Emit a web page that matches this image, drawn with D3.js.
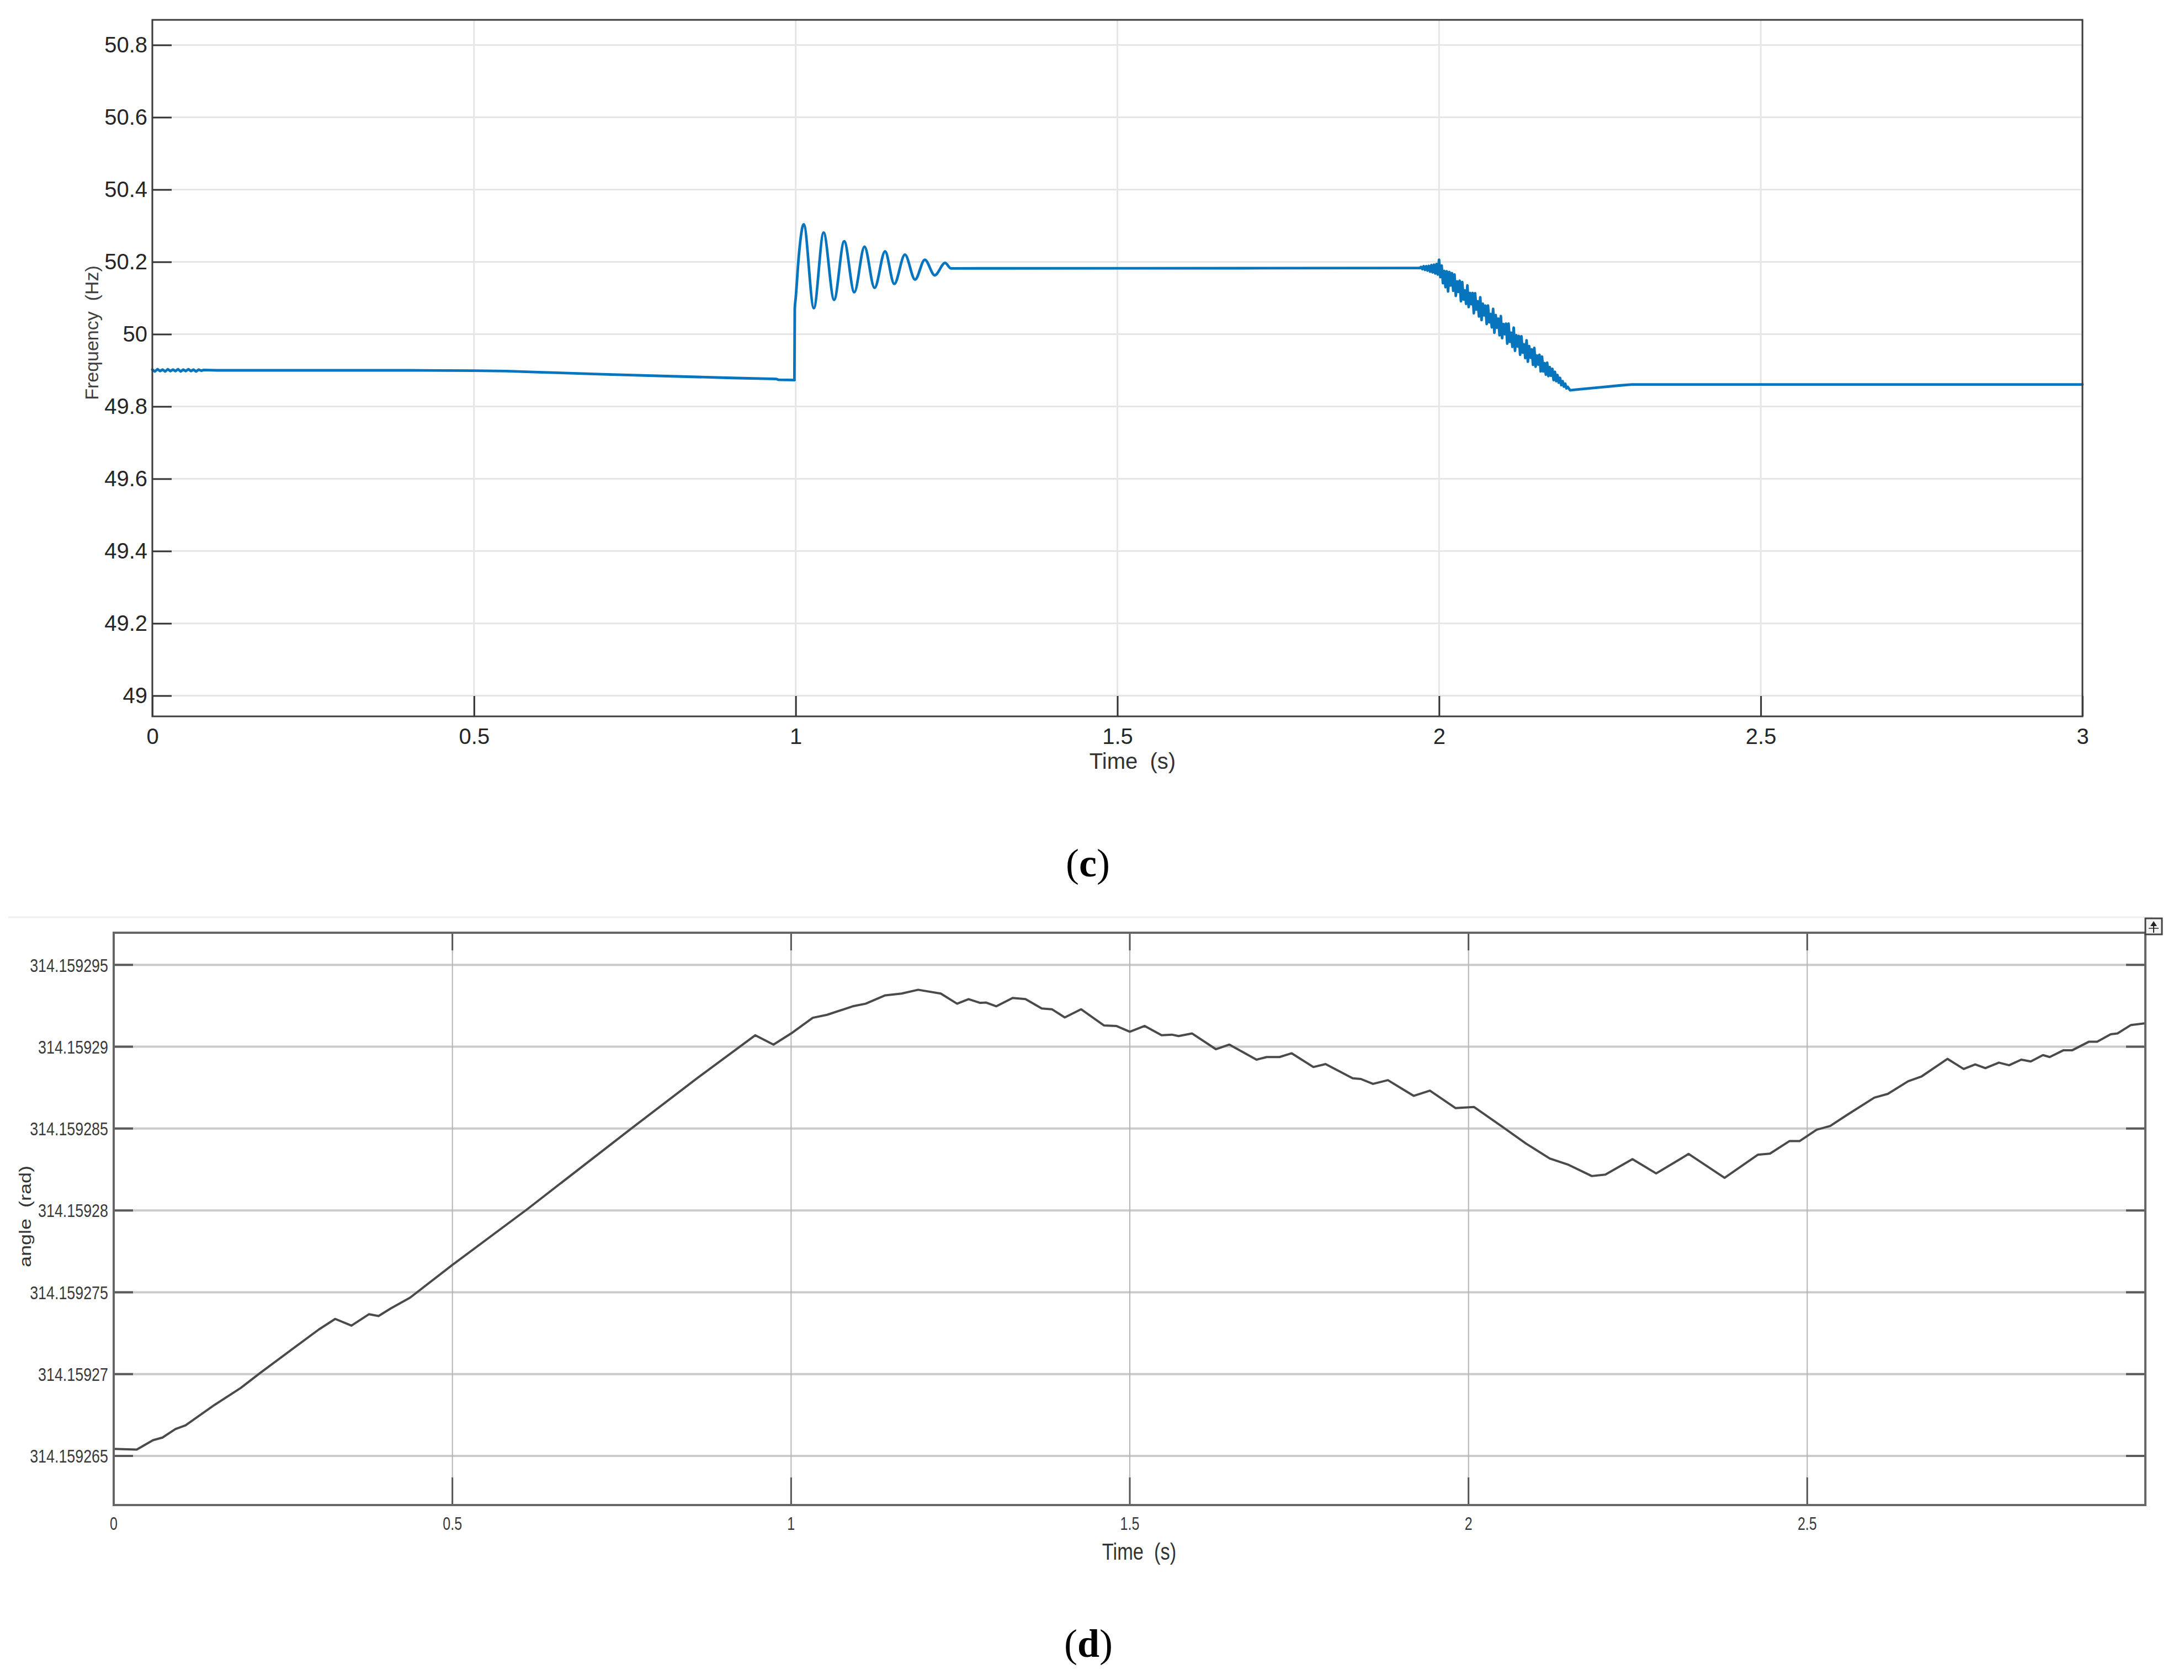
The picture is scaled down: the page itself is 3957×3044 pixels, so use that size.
<!DOCTYPE html>
<html><head><meta charset="utf-8">
<script src="https://cdn.jsdelivr.net/npm/d3@7"></script>
<style>
body{margin:0;background:#fff}
svg{display:block}
text{white-space:pre}
</style>
</head><body>
<svg id="chart" width="3957" height="3044"></svg>
<script>
// ---------- (c) Frequency ----------
// start segment (0 .. 0.998 s)
const freqTimeA = [0,0.004,0.008,0.012,0.016,0.020,0.024,0.028,0.032,0.036,0.040,0.044,0.048,0.052,0.056,0.060,0.064,0.068,0.072,0.076,0.080,0.10,0.20,0.30,0.40,0.50,0.55,0.60,0.70,0.80,0.90,0.97,0.973,0.998];
const freqValueA = [49.902,49.897,49.903,49.898,49.902,49.897,49.903,49.898,49.902,49.898,49.903,49.897,49.902,49.898,49.903,49.898,49.902,49.897,49.902,49.899,49.901,49.900,49.900,49.900,49.900,49.899,49.898,49.895,49.889,49.884,49.879,49.876,49.874,49.873];
// damped oscillation after the step (0.998 .. 1.970 s)
const freqTimeB = [0.998,0.9985,1.0000,1.0050,1.0125,1.0282,1.0434,1.0597,1.0754,1.0911,1.1069,1.1226,1.1389,1.1532,1.1698,1.1855,1.2007,1.2161,1.2322,1.2413,1.970];
const freqValueB = [49.873,50.070,50.100,50.220,50.304,50.072,50.281,50.095,50.257,50.116,50.242,50.128,50.229,50.139,50.220,50.151,50.206,50.163,50.197,50.182,50.183];
// noisy ramp down and settling (1.970 .. 3 s)
const freqTimeC = [1.970,1.972,1.974,1.976,1.978,1.980,1.982,1.984,1.986,1.988,1.990,1.992,1.994,1.996,1.998,2.000,
  2.002,2.004,2.006,2.008,2.010,2.012,2.014,2.016,2.018,2.020,2.022,2.024,2.026,2.028,2.030,2.032,2.034,2.036,2.038,2.040,
  2.042,2.044,2.046,2.048,2.050,2.052,2.054,2.056,2.058,2.060,2.062,2.064,2.066,2.068,2.070,2.072,2.074,2.076,2.078,2.080,
  2.082,2.084,2.086,2.088,2.090,2.092,2.094,2.096,2.098,2.100,2.102,2.104,2.106,2.108,2.110,2.112,2.114,2.116,2.118,2.120,
  2.122,2.124,2.126,2.128,2.130,2.132,2.134,2.136,2.138,2.140,2.142,2.144,2.146,2.148,2.150,2.152,2.154,2.156,2.158,2.160,
  2.162,2.164,2.166,2.168,2.170,2.172,2.174,2.176,2.178,2.180,2.182,2.184,2.186,2.188,2.190,2.192,2.194,2.196,2.198,2.200,2.2036,
  2.22,2.25,2.28,2.30,3.0];
const freqValueC = [50.183,50.186,50.180,50.188,50.178,50.188,50.176,50.189,50.173,50.191,50.171,50.192,50.168,50.194,50.165,50.206,
  50.158,50.190,50.141,50.175,50.130,50.174,50.118,50.172,50.135,50.169,50.120,50.165,50.106,50.146,50.117,50.148,50.091,50.144,50.096,50.121,
  50.084,50.135,50.075,50.114,50.083,50.114,50.058,50.113,50.068,50.091,50.049,50.102,50.039,50.084,50.052,50.079,50.028,50.079,50.033,50.056,
  50.019,50.070,50.004,50.053,50.018,50.043,49.997,50.050,49.989,50.028,50.000,50.029,49.974,50.029,49.979,50.004,49.965,50.018,49.954,49.997,
  49.966,49.995,49.943,49.994,49.949,49.972,49.934,49.983,49.924,49.967,49.935,49.958,49.915,49.962,49.910,49.941,49.916,49.943,49.897,49.938,
  49.897,49.920,49.888,49.921,49.884,49.909,49.885,49.904,49.873,49.896,49.870,49.887,49.866,49.879,49.859,49.870,49.855,49.863,49.850,49.854,49.845,
  49.848,49.853,49.858,49.861,49.861];
const freqTicks = [49,49.2,49.4,49.6,49.8,50,50.2,50.4,50.6,50.8];
const freqTickLabels = ["49","49.2","49.4","49.6","49.8","50","50.2","50.4","50.6","50.8"];
const timeTicksC = [0,0.5,1,1.5,2,2.5,3];
const timeTickLabelsC = ["0","0.5","1","1.5","2","2.5","3"];

// ---------- (d) Angle ----------
const angleTime = [0,0.034,0.058,0.072,0.091,0.106,0.149,0.1875,0.216,0.264,0.303,0.327,0.351,0.377,0.391,0.409,0.4375,0.5,0.611,0.764,0.861,0.947,0.974,1.0,1.032,1.053,1.091,1.11,1.139,1.163,1.1875,1.221,1.245,1.262,1.279,1.288,1.303,1.327,1.346,1.370,1.385,1.404,1.428,1.462,1.48,1.5,1.522,1.547,1.562,1.572,1.592,1.627,1.647,1.687,1.702,1.721,1.739,1.771,1.789,1.829,1.841,1.859,1.881,1.919,1.943,1.981,2.008,2.05,2.085,2.12,2.148,2.182,2.202,2.242,2.277,2.325,2.378,2.427,2.445,2.474,2.489,2.514,2.534,2.559,2.599,2.619,2.649,2.669,2.707,2.731,2.748,2.763,2.783,2.798,2.816,2.830,2.848,2.858,2.878,2.891,2.916,2.928,2.948,2.958,2.978,2.998];
const angleValue = [314.15926543,314.15926539,314.15926596,314.15926612,314.15926664,314.15926687,314.15926812,314.15926915,314.15927006,314.15927154,314.15927273,314.15927337,314.15927296,314.15927366,314.15927355,314.15927401,314.15927467,314.15927667,314.15928009,314.15928500,314.15928807,314.15929070,314.15929013,314.15929081,314.15929177,314.15929195,314.15929247,314.15929263,314.15929314,314.15929325,314.15929348,314.15929325,314.15929263,314.15929291,314.15929268,314.15929270,314.15929247,314.15929298,314.15929291,314.15929234,314.15929229,314.15929179,314.15929229,314.15929130,314.15929127,314.15929092,314.15929127,314.15929070,314.15929074,314.15929065,314.15929081,314.15928985,314.15929013,314.15928921,314.15928937,314.15928937,314.15928960,314.15928876,314.15928894,314.15928807,314.15928803,314.15928773,314.15928796,314.15928700,314.15928732,314.15928625,314.15928632,314.15928511,314.15928408,314.15928317,314.15928278,314.15928210,314.15928219,314.15928313,314.15928226,314.15928345,314.15928199,314.15928340,314.15928347,314.15928424,314.15928424,314.15928493,314.15928516,314.15928584,314.15928689,314.15928712,314.15928789,314.15928819,314.15928926,314.15928864,314.15928892,314.15928869,314.15928903,314.15928887,314.15928921,314.15928910,314.15928949,314.15928937,314.15928978,314.15928978,314.15929031,314.15929031,314.15929076,314.15929081,314.15929133,314.15929143];
const angleTicks = [314.159265,314.15927,314.159275,314.15928,314.159285,314.15929,314.159295];
const angleTickLabels = ["314.159265","314.15927","314.159275","314.15928","314.159285","314.15929","314.159295"];
const timeTicksD = [0,0.5,1,1.5,2,2.5];
const timeTickLabelsD = ["0","0.5","1","1.5","2","2.5"];

const SANS = "'Liberation Sans',Arial,sans-serif";
const SERIF = "'Liberation Serif','Times New Roman',serif";

const svg = d3.select("#chart");
svg.append("rect").attr("width",3957).attr("height",3044).attr("fill","#fff");

function caption(g, x, y, letter){
  const t = g.append("text").attr("x",x).attr("y",y).attr("text-anchor","middle")
    .style("font-family",SERIF).style("font-size","72px").attr("fill","#000");
  t.append("tspan").text("(");
  t.append("tspan").text(letter).style("font-weight","bold");
  t.append("tspan").text(")");
}

// ================= Chart (c) =================
{
  const L=276, R=3773, T=36, B=1298;
  const x = d3.scaleLinear([0,3],[L,R]);
  const y = d3.scaleLinear([49,50.8],[1260.5,81.5]);
  const g = svg.append("g");
  g.selectAll(".vg").data(timeTicksC).join("line")
    .attr("x1",d=>x(d)).attr("x2",d=>x(d)).attr("y1",T).attr("y2",B)
    .attr("stroke","#e6e6e6").attr("stroke-width",3);
  g.selectAll(".hg").data(freqTicks).join("line").attr("class","hg")
    .attr("x1",L).attr("x2",R).attr("y1",d=>y(d)).attr("y2",d=>y(d))
    .attr("stroke","#e6e6e6").attr("stroke-width",3);
  const lineStyle = p => p.attr("fill","none").attr("stroke","#0675be").attr("stroke-width",4.8)
    .attr("stroke-linejoin","round").attr("stroke-linecap","round");
  const lin = d3.line().x(d=>x(d[0])).y(d=>y(d[1]));
  const smooth = d3.line().x(d=>x(d[0])).y(d=>y(d[1])).curve(d3.curveMonotoneX);
  g.append("path").datum(freqTimeA.map((t,i)=>[t,freqValueA[i]])).attr("d",lin).call(lineStyle);
  g.append("path").datum(freqTimeB.map((t,i)=>[t,freqValueB[i]])).attr("d",smooth).call(lineStyle);
  g.append("path").datum(freqTimeC.map((t,i)=>[t,freqValueC[i]])).attr("d",lin).call(lineStyle);
  const styleAxis = (sel) => {
    sel.select(".domain").remove();
    sel.selectAll(".tick line").attr("stroke","#333").attr("stroke-width",3);
    sel.selectAll(".tick text").style("font-size","40px").attr("fill","#262626").style("font-family",SANS);
  };
  g.append("g").attr("transform",`translate(${L},0)`)
    .call(d3.axisLeft(y).tickValues(freqTicks).tickFormat((d,i)=>freqTickLabels[i]).tickSizeInner(-35).tickSizeOuter(0).tickPadding(9))
    .call(styleAxis);
  g.append("g").attr("transform",`translate(0,${B})`)
    .call(d3.axisBottom(x).tickValues(timeTicksC).tickFormat((d,i)=>timeTickLabelsC[i]).tickSizeInner(-37).tickSizeOuter(0).tickPadding(22))
    .call(styleAxis);
  g.append("rect").attr("x",L).attr("y",T).attr("width",R-L).attr("height",B-T)
    .attr("fill","none").attr("stroke","#3c3c3c").attr("stroke-width",3);
  g.append("text").text("Time  (s)").attr("x",2052).attr("y",1393)
    .attr("text-anchor","middle").style("font-family",SANS).style("font-size","40px").attr("fill","#333");
  g.append("text").text("Frequency  (Hz)").attr("transform","translate(178,603) rotate(-90)")
    .attr("text-anchor","middle").style("font-family",SANS).style("font-size","34px").attr("fill","#404040");
  caption(g, 1971, 1588, "c");
}

svg.append("line").attr("x1",15).attr("x2",3900).attr("y1",1662).attr("y2",1662)
  .attr("stroke","#eeeeee").attr("stroke-width",3);

// ================= Chart (d) =================
{
  const L=206, R=3887, T=1690, B=2727;
  const x = d3.scaleLinear([0,3],[206,3888]);
  const y = d3.scaleLinear([314.159265,314.159295],[2638,1748.3]);
  const g = svg.append("g");
  g.selectAll(".hg").data(angleTicks).join("line")
    .attr("x1",L).attr("x2",R).attr("y1",d=>y(d)).attr("y2",d=>y(d))
    .attr("stroke","#cbcbcb").attr("stroke-width",4);
  g.selectAll(".vg").data(timeTicksD).join("line")
    .attr("x1",d=>x(d)).attr("x2",d=>x(d)).attr("y1",T).attr("y2",B)
    .attr("stroke","#b4b4b4").attr("stroke-width",2);
  g.selectAll(".tl").data(angleTicks).join("line")
    .attr("x1",L).attr("x2",L+35).attr("y1",d=>y(d)).attr("y2",d=>y(d))
    .attr("stroke","#5a5a5a").attr("stroke-width",4);
  g.selectAll(".tr").data(angleTicks).join("line")
    .attr("x1",R-35).attr("x2",R).attr("y1",d=>y(d)).attr("y2",d=>y(d))
    .attr("stroke","#5a5a5a").attr("stroke-width",4);
  g.selectAll(".tb").data(timeTicksD).join("line")
    .attr("x1",d=>x(d)).attr("x2",d=>x(d)).attr("y1",B-50).attr("y2",B)
    .attr("stroke","#555").attr("stroke-width",3);
  g.selectAll(".tt").data(timeTicksD).join("line")
    .attr("x1",d=>x(d)).attr("x2",d=>x(d)).attr("y1",T).attr("y2",T+32)
    .attr("stroke","#555").attr("stroke-width",3);
  const pts = angleTime.map((t,i)=>[t,angleValue[i]]);
  g.append("path").datum(pts)
    .attr("d", d3.line().x(d=>x(d[0])).y(d=>y(d[1])))
    .attr("fill","none").attr("stroke","#4a4a4a").attr("stroke-width",4).attr("stroke-linejoin","round");
  g.append("rect").attr("x",L).attr("y",T).attr("width",R-L).attr("height",B-T)
    .attr("fill","none").attr("stroke","#666").attr("stroke-width",4);
  g.selectAll(".yl").data(angleTicks).join("text")
    .attr("transform",(d)=>`translate(196,${y(d)}) scale(0.79,1)`)
    .attr("dy","0.36em").attr("text-anchor","end").style("font-family",SANS).style("font-size","34px").attr("fill","#3a3a3a")
    .text((d,i)=>angleTickLabels[i]);
  g.selectAll(".xl").data(timeTicksD).join("text")
    .attr("transform",(d)=>`translate(${x(d)},2772) scale(0.76,1)`)
    .attr("text-anchor","middle").style("font-family",SANS).style("font-size","33px").attr("fill","#3a3a3a")
    .text((d,i)=>timeTickLabelsD[i]);
  g.append("text").text("Time  (s)").attr("transform","translate(2064,2826) scale(0.82,1)")
    .attr("text-anchor","middle").style("font-family",SANS).style("font-size","42px").attr("fill","#333");
  g.append("text").text("angle  (rad)").attr("transform","translate(56,2204) scale(0.8,1) rotate(-90)")
    .attr("text-anchor","middle").style("font-family",SANS).style("font-size","36px").attr("fill","#333");
  g.append("rect").attr("x",3887).attr("y",1664).attr("width",30).attr("height",29)
    .attr("fill","#f2f2f2").attr("stroke","#444").attr("stroke-width",3);
  g.append("path").attr("d","M3902,1669 L3896,1678 L3908,1678 Z").attr("fill","#222");
  g.append("line").attr("x1",3902).attr("x2",3902).attr("y1",1677).attr("y2",1690).attr("stroke","#222").attr("stroke-width",2);
  g.append("line").attr("x1",3893).attr("x2",3911).attr("y1",1682).attr("y2",1682).attr("stroke","#222").attr("stroke-width",1.5);
  caption(g, 1972, 3002, "d");
}
</script>
</body></html>
